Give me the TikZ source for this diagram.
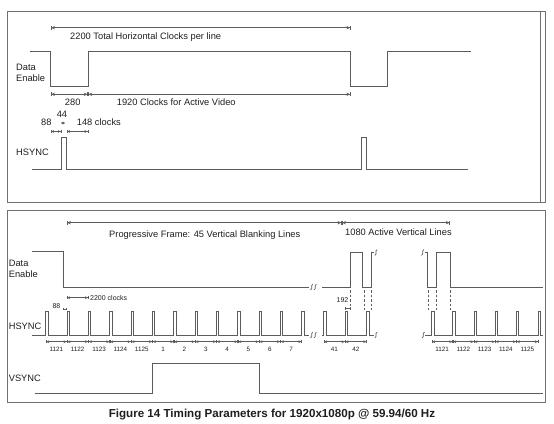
\documentclass[tikz,border=0pt]{standalone}
\usepackage{fontspec}
\setmainfont{Liberation Sans}
\usetikzlibrary{arrows.meta}
\definecolor{ln}{HTML}{5C5C5C}
\definecolor{fr}{HTML}{707070}
\definecolor{tx}{HTML}{1E1E1E}
\tikzset{
  sig/.style={draw=ln, line width=0.9pt, line join=miter},
  frm/.style={draw=fr, line width=0.8pt},
  dsh/.style={draw=ln, line width=0.7pt, dash pattern=on 2.5pt off 2pt},
  lbl/.style={inner sep=0pt, text=tx, font=\fontsize{9.3}{11}\selectfont},
  sml/.style={inner sep=0pt, text=tx, font=\fontsize{7}{8}\selectfont},
  num/.style={inner sep=0pt, text=tx, font=\fontsize{6.3}{7}\selectfont},
  captxt/.style={inner sep=0pt, text=tx, font=\fontsize{11.6}{13}\selectfont\bfseries},
  dim/.style={draw=ln, line width=0.6pt,
    {Bar[width=4pt]Stealth[length=3.6pt,width=3.4pt]}-{Stealth[length=3.6pt,width=3.4pt]Bar[width=4pt]}},
  dimb/.style={draw=ln, line width=0.5pt,
    {Bar[width=3.4pt]Stealth[length=3pt,width=2.8pt]}-{Stealth[length=3pt,width=2.8pt]Bar[width=3.4pt]}},
  dimt/.style={draw=ln, line width=0.5pt, {Bar[width=2.5pt]}-{Bar[width=2.5pt]}},
}
\newcommand\brkmark[2]{\draw[sig, line width=0.7pt] (#1-1.2,#2+3) .. controls (#1+1.8,#2+1) and (#1-1.8,#2-1) .. (#1+1.2,#2-3);}
\begin{document}
\begin{tikzpicture}[x=1pt,y=-1pt]
\useasboundingbox (0,0) rectangle (554,423);
% ---------- frames ----------
\draw[frm] (7.3,11) rectangle (545.3,202);
\draw[frm] (540.7,11) -- (540.7,202);
\draw[frm] (7.3,210.5) rectangle (545.3,402);
% ================= TOP PANEL =================
\draw[dim] (50.7,27.7) -- (350.7,27.7);
\node[lbl, anchor=base west] (ttot) at (70,39) {2200 Total Horizontal Clocks per line};
\node[lbl, anchor=base west] (tde1) at (16,70) {Data};
\node[lbl, anchor=base west] (tde2) at (16,81) {Enable};
\draw[sig] (30,51.7) -- (50.7,51.7) -- (50.7,86) -- (88,86) -- (88,51.7) -- (350.7,51.7)
  -- (350.7,86) -- (387.7,86) -- (387.7,51.7) -- (470.7,51.7);
\draw[dim] (50.7,94.3) -- (88,94.3);
\draw[dim] (88,94.3) -- (350.7,94.3);
\node[lbl, anchor=base] (t280) at (72.7,105.6) {280};
\node[lbl, anchor=base west] (t1920) at (116.7,105.6) {1920 Clocks for Active Video};
\node[lbl, anchor=base] (t44) at (62,117.6) {44};
\node[lbl, anchor=base] (t88) at (46.3,125.8) {88};
\node[lbl, anchor=base west] (t148) at (76.7,125.8) {148 clocks};
\draw[draw=ln, line width=0.5pt, {Stealth[length=2.2pt,width=2.8pt]}-{Stealth[length=2.2pt,width=2.8pt]}] (61,123) -- (65,123);
\draw[dimb] (50.7,131.5) -- (61.3,131.5);
\draw[dimb] (66.7,131.5) -- (88,131.5);
\node[lbl, anchor=base west] (ths) at (16,155) {HSYNC};
\draw[sig] (31.7,169.3) -- (61.3,169.3) -- (61.3,137.3) -- (66.7,137.3) -- (66.7,169.3) -- (361,169.3)
  -- (361,137.3) -- (366.7,137.3) -- (366.7,169.3) -- (468.3,169.3);
% ================= BOTTOM PANEL =================
\draw[dim] (66.7,222.7) -- (341.7,222.7);
\draw[dim] (341.7,222.7) -- (450,222.7);
\node[lbl, anchor=base west] (tprog) at (109,237.6) {Progressive Frame: 45 Vertical Blanking Lines};
\node[lbl, anchor=base west] (tact) at (345,235) {1080 Active Vertical Lines};
\node[lbl, anchor=base west] (bde1) at (8.6,266.6) {Data};
\node[lbl, anchor=base west] (bde2) at (8.6,277.3) {Enable};
% DE bottom
\draw[sig] (32.3,251.7) -- (63.3,251.7) -- (63.3,287) -- (309,287);
\brkmark{311.7}{287}
\brkmark{315.2}{287}
\draw[sig] (321.8,287) -- (350.7,287) -- (350.7,252) -- (362.7,252) -- (362.7,287) -- (371.3,287)
  -- (371.3,252) -- (373.5,252);
\brkmark{376}{252.5}
\brkmark{422.7}{252.5}
\draw[sig] (424.5,252) -- (427.7,252) -- (427.7,287) -- (436,287) -- (436,252) -- (450,252)
  -- (450,287) -- (542.7,287);
% dashed guides
\foreach \x in {350.7,364,371.3,428.3,436,450}{\draw[dsh] (\x,290) -- (\x,310);}
% 2200 clocks / 88 / 192
\draw[dimb] (66.7,297.7) -- (88.4,297.7);
\node[sml, anchor=base west] (t2200c) at (90,300.3) {2200 clocks};
\node[sml, anchor=base] (b88) at (56.5,308.2) {88};
\draw[dimt] (63.3,309) -- (66.7,309);
\node[sml, anchor=base] (t192) at (342.5,302.5) {192};
\draw[dimt] (345,308.5) -- (350.7,308.5);
% HSYNC bottom
\node[lbl, anchor=base west] (bhs) at (8.6,329) {HSYNC};
\draw[sig] (32.3,335)
  foreach \x in {45.7,67.0,88.4,109.7,131.1,152.4,173.7,195.1,216.4,237.8,259.1,280.4,301.8}
  { -- (\x,335) -- (\x,311) -- (\x+2.5,311) -- (\x+2.5,335) } -- (309,335);
\brkmark{311.7}{335}
\brkmark{315.2}{335}
\draw[sig] (321.8,335)
  foreach \x in {323.5,345,366.7} { -- (\x,335) -- (\x,311) -- (\x+2.5,311) -- (\x+2.5,335) } -- (373.5,335);
\brkmark{376}{335}
\brkmark{423.3}{335}
\draw[sig] (424.5,335)
  foreach \x in {431.7,452.7,474,495.2,516.4,538.3} { -- (\x,335) -- (\x,311) -- (\x+2.5,311) -- (\x+2.5,335) } -- (542.7,335);
% line-number dimensions
\foreach \a/\b/\t [count=\i] in {45.7/67.0/1121,67.0/88.4/1122,88.4/109.7/1123,109.7/131.1/1124,131.1/152.4/1125,
  152.4/173.7/1,173.7/195.1/2,195.1/216.4/3,216.4/237.8/4,237.8/259.1/5,259.1/280.4/6,280.4/301.8/7,
  323.5/345/41,345/366.7/42,431.7/452.7/1121,452.7/474/1122,474/495.2/1123,495.2/516.4/1124,516.4/538.3/1125}
{
  \draw[dimb] (\a,341.7) -- (\b,341.7);
  \node[num, anchor=base] (n\i) at ({(\a+\b)/2},351.6) {\t};
}
% VSYNC
\node[lbl, anchor=base west] (bvs) at (8.6,381) {VSYNC};
\draw[sig] (34.6,393) -- (152.4,393) -- (152.4,363) -- (259.3,363) -- (259.3,393) -- (542.7,393);
% caption
\node[captxt, anchor=base] (capt) at (272,417.7) {Figure 14 Timing Parameters for 1920x1080p @ 59.94/60 Hz};
\end{tikzpicture}
\end{document}
